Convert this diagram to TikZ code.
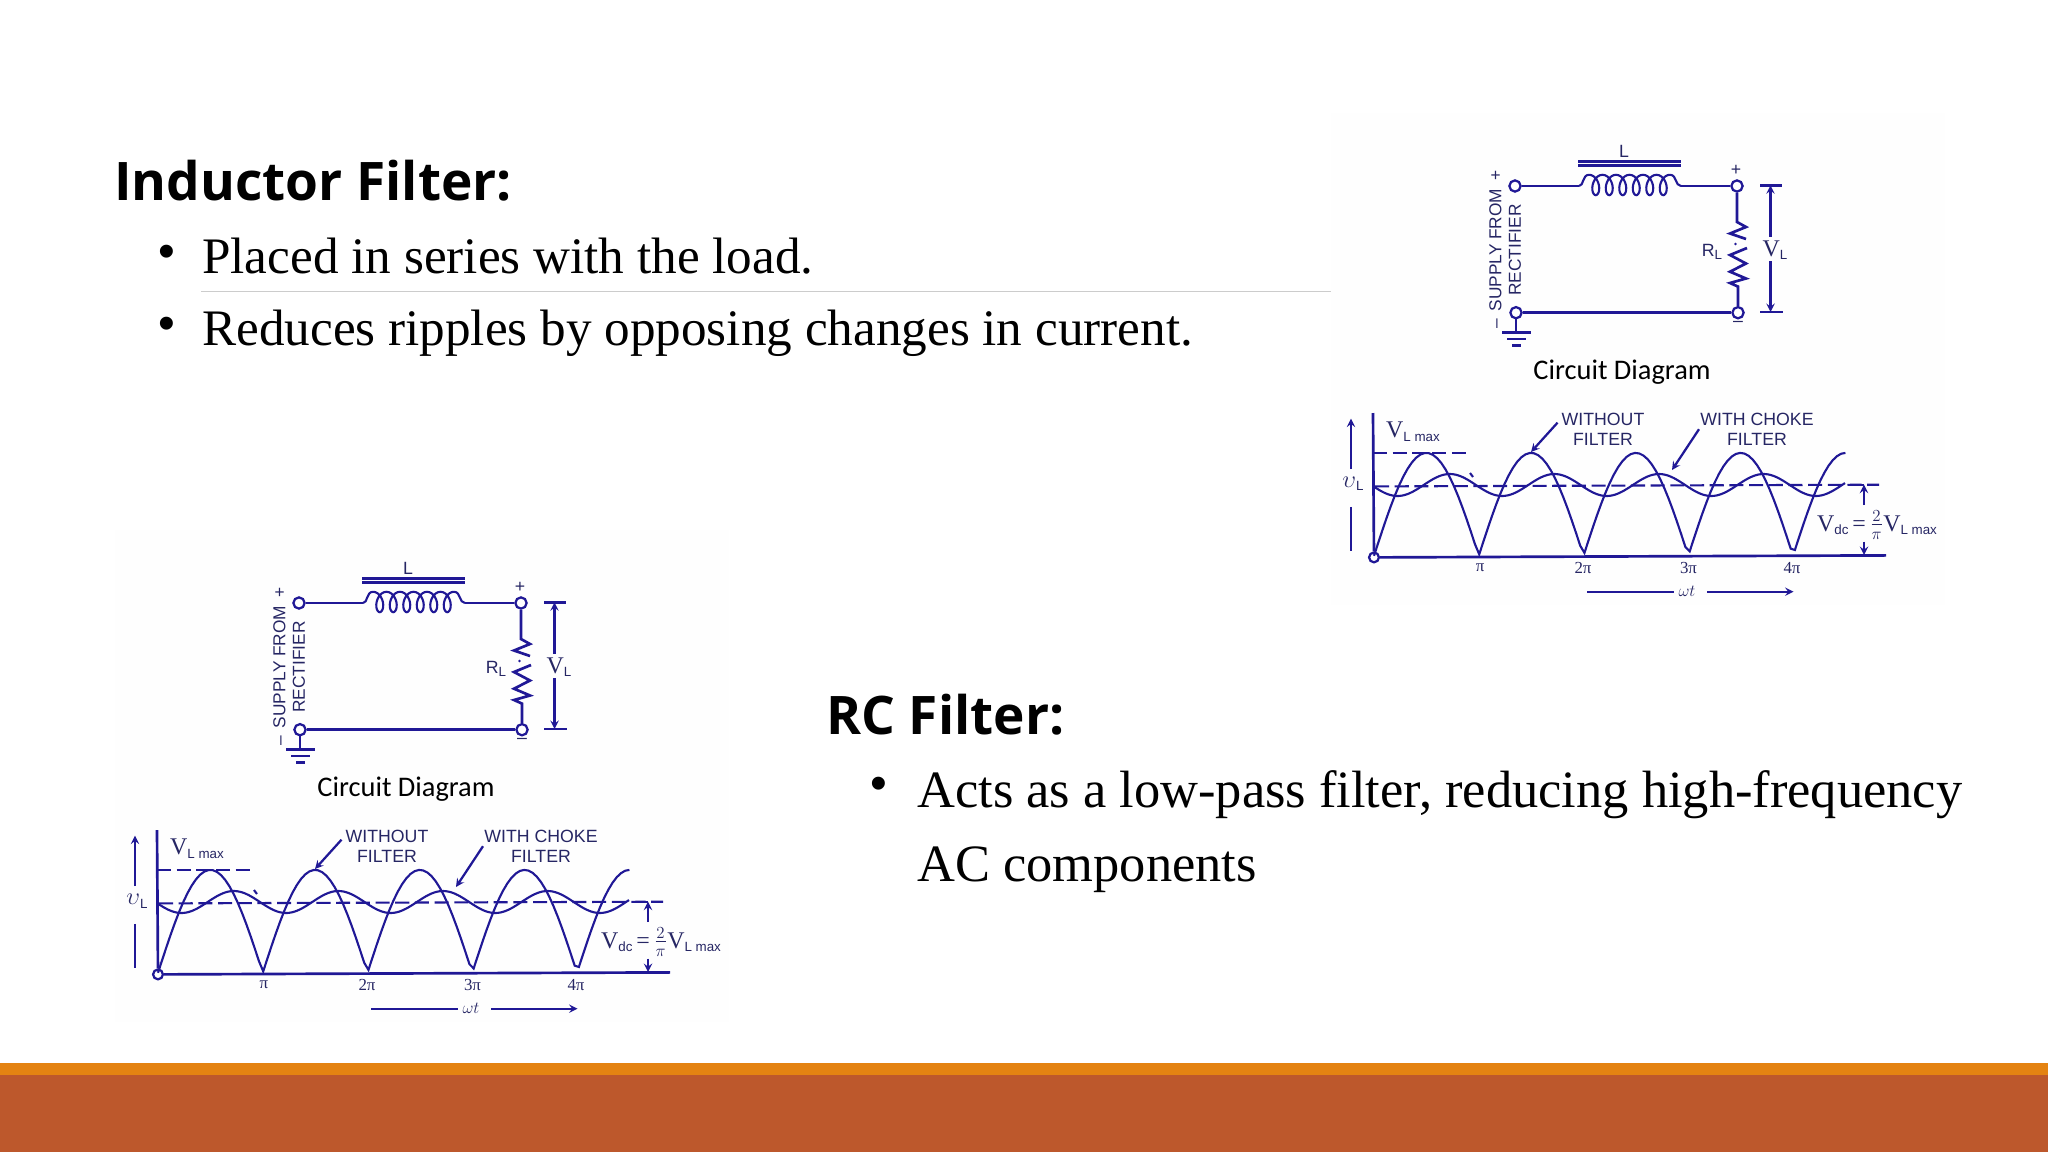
\documentclass[tikz,border=0pt]{standalone}
\usepackage{amsmath}
\usepackage{fontspec}
\setmainfont{Liberation Serif}
\setsansfont{Liberation Sans}
\newfontfamily\headfont{Open Sans}
\newfontfamily\captionfont{Carlito}
\usepackage{tikz}
\usetikzlibrary{positioning, arrows}
\definecolor{inkblue}{RGB}{32,24,150}
\definecolor{inkgrey}{RGB}{38,38,100}
\definecolor{panel}{RGB}{254,254,254}
\definecolor{stripe}{HTML}{E48312}
\definecolor{band}{HTML}{BD582C}
\newcommand{\lowsub}[1]{\raisebox{-2.5pt}{\sffamily\fontsize{9.5}{10}\selectfont #1}}
\begin{document}
\begin{tikzpicture}[x=0.025cm,y=-0.025cm]
	\tikzstyle{heading} = [anchor=base west, inner sep=0, font=\headfont\bfseries\fontsize{37.8}{38}\selectfont]
	\tikzstyle{body} = [anchor=base west, inner sep=0, font=\fontsize{36.4}{37}\selectfont]
	\tikzstyle{bodyrc} = [anchor=base west, inner sep=0, font=\fontsize{37.3}{38}\selectfont]
	\tikzstyle{dotmark} = [inner sep=0, font=\sffamily\fontsize{34}{34}\selectfont]
	\tikzstyle{wire} = [draw=inkblue, line width=1.9pt]
	\tikzstyle{curve} = [draw=inkblue, line width=1.5pt]
	\tikzstyle{dashline} = [draw=inkblue, line width=1.5pt, dash pattern=on 10pt off 4pt]
	\tikzstyle{arrowline} = [-stealth, draw=inkblue, line width=1.6pt]
	\tikzstyle{terminal} = [shape=circle, minimum size=8pt, inner sep=0, draw=inkblue, line width=1.6pt, fill=white]
	\tikzstyle{invisible} = [outer sep=0, inner sep=0, minimum size=0]
	\tikzstyle{tag} = [invisible, text=inkgrey, font=\sffamily\fontsize{12.6}{13}\selectfont]
	\tikzstyle{ticklabel} = [invisible, text=inkgrey, font=\fontsize{12}{12}\selectfont]
	\tikzstyle{sym} = [invisible, text=inkgrey, font=\fontsize{17}{17}\selectfont]
	\tikzset{filterfig/.pic={
		\fill [panel] (1331,113) rectangle (1945,605);
		% circuit
		\node [terminal] (v1) at (1515,186) {};
		\node [terminal] (v2) at (1737,186) {};
		\node [terminal] (v3) at (1516,312.7) {};
		\node [terminal] (v4) at (1738,312.7) {};
		\coordinate (v5) at (1579,186);
		\coordinate (v6) at (1681,186);
		\draw [wire] (v1) -- (v5);
		\draw [curve] (v5) .. controls (1584,186) and (1582,174.8) .. (1589,174.8);
		\draw [curve] plot [domain=0:2160, samples=145, smooth, variable=\t] ({1589+\t/360*13.5+6.5*sin(\t)},{185-10.2*cos(\t)});
		\draw [curve] (1670,174.8) .. controls (1677,174.8) and (1675,186) .. (v6);
		\draw [wire] (v6) -- (v2);
		\draw [wire] (1578,161.6) -- (1681,161.6);
		\draw [wire] (1578,165.7) -- (1681,165.7);
		\draw [wire] (v2) -- (1737,222) -- (1746,227) -- (1730,233.5) -- (1746,239);
		\draw [wire] (1747,248) -- (1730,255) -- (1746,263.5) -- (1730,271.7) -- (1746,278.5) -- (1730,283) -- (1738,286.6) -- (v4);
		\fill [inkblue] (1735.5,244) circle (1.3);
		\draw [wire] (v3) -- (v4);
		\coordinate (v7) at (1516,332.3);
		\draw [wire] (v3) -- (v7);
		\draw [wire] (1502,332.3) -- (1531,332.3);
		\draw [wire] (1507,338.9) -- (1526,338.9);
		\draw [wire] (1512,345.4) -- (1521,345.4);
		% load voltage
		\node [sym] (v8) at (1775,250) {V\lowsub{L}};
		\coordinate (v9) at (1770.5,185.3);
		\coordinate (v10) at (1770.5,312);
		\draw [arrowline] (1770.5,236.8) -- (v9);
		\draw [arrowline] (1770.5,261.3) -- (v10);
		\draw [wire] (1760,185.3) -- (1782,185.3);
		\draw [wire] (1760,312) -- (1783,312);
		\node [tag] (v11) at (1624,151) {L};
		\node [tag] (v12) at (1712,252) {R\lowsub{L}};
		\node [tag] (v13) at (1736,170.6) {+};
		\node [tag] (v14) at (1738,324) {--};
		\node [tag, rotate=90, font=\sffamily\fontsize{12.3}{14}\selectfont] (v15) at (1495.5,250) {\llap{-- \,}SUPPLY FROM\rlap{\, +}};
		\node [tag, rotate=90, font=\sffamily\fontsize{12.3}{14}\selectfont] (v16) at (1515,250) {RECTIFIER};
		\node [invisible, font=\captionfont\fontsize{20.2}{22}\selectfont] (v17) at (1622,372) {Circuit Diagram};
		% waveform
		\node [terminal, minimum size=7pt] (v20) at (1374,557.4) {};
		\coordinate (v21) at (1373,413);
		\coordinate (v22) at (1886,555.4);
		\draw [wire] (v20) -- (v21);
		\draw [wire] (v20) -- (v22);
		\draw [curve] plot [domain=1374:1845.4, samples=113] (\x,{555.8-102.9*abs(sin((\x-1374)/104.75*180))});
		\draw [curve] plot [domain=1375:1845, samples=100, smooth] (\x,{485+11*cos((\x-1397.5)/104.6*360)});
		\draw [curve] (1470,473) -- (1473,477);
		\draw [dashline] (1373,452.9) -- (1466,452.9);
		\draw [dashline] (1375,486.4) -- (1879,484.7);
		\coordinate (v23) at (1351,418.6);
		\draw [arrowline] (1351,469) -- (v23);
		\draw [curve] (1351,506.8) -- (1351,551);
		\node [sym] (v24) at (1353,484) {$\upsilon$\lowsub{L}};
		\node [sym] (v25) at (1413,431.6) {V\lowsub{L max}};
		\node [tag, align=center] (v26) at (1603,429.5) {WITHOUT\\[1pt]FILTER};
		\node [tag, align=center] (v27) at (1757,429.5) {WITH CHOKE\\[1pt]FILTER};
		\coordinate (v28) at (1531,452);
		\coordinate (v29) at (1672,470);
		\draw [arrowline] (1557.5,422.7) -- (v28);
		\draw [arrowline] (1699,429.2) -- (v29);
		\node [ticklabel] (v30) at (1480,568) {π};
		\node [ticklabel] (v31) at (1583,568) {2π};
		\node [ticklabel] (v32) at (1688.5,568) {3π};
		\node [ticklabel] (v33) at (1792,568) {4π};
		\node [ticklabel, outer sep=3pt] (v34) at (1687,591.7) {$\omega t$};
		\coordinate (v35) at (1793.5,591.7);
		\draw [curve] (1587,591.7) -- (v34);
		\draw [arrowline] (1707,591.7) -- (v35);
		\node [sym] (v36) at (1877,525) {V\lowsub{dc}\,=\,$\frac{2}{\pi}$V\lowsub{L max}};
		\coordinate (v37) at (1864,484.7);
		\coordinate (v38) at (1864,555);
		\draw [arrowline] (1864,505) -- (v37);
		\draw [arrowline] (1864,541.7) -- (v38);
		\draw [curve] (1851,484.7) -- (1864,484.7);
	}}
	\useasboundingbox (0,0) rectangle (2048,1152);
	\fill [white] (0,0) rectangle (2048,1152);
	\fill [stripe] (0,1063) rectangle (2048,1075);
	\fill [band] (0,1075) rectangle (2048,1152);
	\coordinate (r1) at (201,291.5);
	\coordinate (r2) at (1331,291.5);
	\draw [black!20, line width=1pt] (r1) -- (r2);
	\pic (rt) at (0,0) {filterfig};
	\pic (lf) at (-1216,417) {filterfig};
	\node [heading] (h1) at (114,200) {Inductor Filter:};
	\node [dotmark] (b1) at (167,256) {•};
	\node [body] (t1) at (202,273) {Placed in series with the load.};
	\node [dotmark] (b2) at (167,328) {•};
	\node [body] (t2) at (202,345) {Reduces ripples by opposing changes in current.};
	\node [heading] (h2) at (826,734) {RC Filter:};
	\node [dotmark] (b3) at (879,788) {•};
	\node [bodyrc] (t3) at (917,807) {Acts as a low-pass filter, reducing high-frequency};
	\node [bodyrc] (t4) at (917,881) {AC components};
\end{tikzpicture}
\end{document}
